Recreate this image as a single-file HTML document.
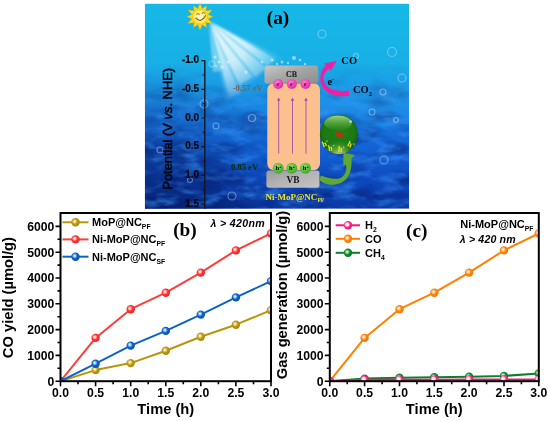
<!DOCTYPE html>
<html><head><meta charset="utf-8"><title>Figure</title>
<style>
html,body{margin:0;padding:0;background:#fff}
svg{display:block}
text{font-family:"Liberation Sans",Arial,sans-serif;font-weight:bold}
.tk{font-size:12.2px}
.al{font-size:14.7px}
.lg{font-size:11px}
.lam{font-size:10.6px;font-style:italic}
.pn{font-family:"Liberation Serif","Times New Roman",serif;font-size:19.3px}
.sf{font-family:"Liberation Serif","Times New Roman",serif}
</style></head><body>
<svg width="550" height="421" viewBox="0 0 550 421">
<defs>
<radialGradient id="gO" cx="0.4" cy="0.4" r="0.62"><stop offset="0.0" stop-color="#fff"/><stop offset="0.25" stop-color="#e6d28c"/><stop offset="0.5" stop-color="#be9a14"/><stop offset="1" stop-color="#a88600"/></radialGradient>
<radialGradient id="gB" cx="0.4" cy="0.4" r="0.62"><stop offset="0.0" stop-color="#fff"/><stop offset="0.25" stop-color="#96c0f0"/><stop offset="0.5" stop-color="#1464c8"/><stop offset="1" stop-color="#0050b4"/></radialGradient>
<radialGradient id="gR" cx="0.4" cy="0.4" r="0.62"><stop offset="0.0" stop-color="#fff"/><stop offset="0.25" stop-color="#ffb4b4"/><stop offset="0.5" stop-color="#ff3434"/><stop offset="1" stop-color="#f52020"/></radialGradient>
<radialGradient id="gOr" cx="0.4" cy="0.4" r="0.62"><stop offset="0.0" stop-color="#fff"/><stop offset="0.25" stop-color="#ffd2a0"/><stop offset="0.5" stop-color="#ff8408"/><stop offset="1" stop-color="#f57800"/></radialGradient>
<radialGradient id="gG" cx="0.4" cy="0.4" r="0.62"><stop offset="0.0" stop-color="#fff"/><stop offset="0.25" stop-color="#96d2a0"/><stop offset="0.5" stop-color="#148c32"/><stop offset="1" stop-color="#007820"/></radialGradient>
<radialGradient id="gP" cx="0.4" cy="0.4" r="0.62"><stop offset="0.08" stop-color="#fff"/><stop offset="0.33" stop-color="#ffc8e0"/><stop offset="0.58" stop-color="#f52888"/><stop offset="1" stop-color="#f0147d"/></radialGradient>
</defs>
<rect width="550" height="421" fill="#fff"/>
<clipPath id="cl60"><rect x="60.5" y="213.0" width="210.5" height="168.2"/></clipPath>
<text x="54.3" y="385.6" text-anchor="end" class="tk">0</text>
<text x="54.3" y="359.8" text-anchor="end" class="tk">1000</text>
<text x="54.3" y="334.0" text-anchor="end" class="tk">2000</text>
<text x="54.3" y="308.2" text-anchor="end" class="tk">3000</text>
<text x="54.3" y="282.4" text-anchor="end" class="tk">4000</text>
<text x="54.3" y="256.6" text-anchor="end" class="tk">5000</text>
<text x="54.3" y="230.8" text-anchor="end" class="tk">6000</text>
<text x="60.5" y="396.9" text-anchor="middle" class="tk">0.0</text>
<text x="95.6" y="396.9" text-anchor="middle" class="tk">0.5</text>
<text x="130.7" y="396.9" text-anchor="middle" class="tk">1.0</text>
<text x="165.8" y="396.9" text-anchor="middle" class="tk">1.5</text>
<text x="200.8" y="396.9" text-anchor="middle" class="tk">2.0</text>
<text x="235.9" y="396.9" text-anchor="middle" class="tk">2.5</text>
<text x="271.0" y="396.9" text-anchor="middle" class="tk">3.0</text>
<path d="M55.5 381.2H60.5 M57.5 368.3H60.5 M55.5 355.4H60.5 M57.5 342.5H60.5 M55.5 329.6H60.5 M57.5 316.7H60.5 M55.5 303.8H60.5 M57.5 290.9H60.5 M55.5 278.0H60.5 M57.5 265.1H60.5 M55.5 252.2H60.5 M57.5 239.3H60.5 M55.5 226.4H60.5 M60.5 381.2V386.2 M78.0 381.2V384.2 M95.6 381.2V386.2 M113.1 381.2V384.2 M130.7 381.2V386.2 M148.2 381.2V384.2 M165.8 381.2V386.2 M183.3 381.2V384.2 M200.8 381.2V386.2 M218.4 381.2V384.2 M235.9 381.2V386.2 M253.5 381.2V384.2 M271.0 381.2V386.2" stroke="#000" stroke-width="1.6" fill="none"/>
<text x="165.8" y="413.7" text-anchor="middle" class="al">Time (h)</text>
<text transform="translate(13.3 297.6) rotate(-90)" text-anchor="middle" class="al">CO yield (µmol/g)</text>
<g clip-path="url(#cl60)">
<path d="M60.5 381.2 L95.6 370.1 L130.7 363.1 L165.8 350.8 L200.8 336.8 L235.9 324.7 L271.0 310.2" stroke="#b8960c" stroke-width="2" fill="none" stroke-linejoin="round"/>
<circle cx="60.5" cy="381.2" r="4.2" fill="url(#gO)"/>
<circle cx="95.6" cy="370.1" r="4.2" fill="url(#gO)"/>
<circle cx="130.7" cy="363.1" r="4.2" fill="url(#gO)"/>
<circle cx="165.8" cy="350.8" r="4.2" fill="url(#gO)"/>
<circle cx="200.8" cy="336.8" r="4.2" fill="url(#gO)"/>
<circle cx="235.9" cy="324.7" r="4.2" fill="url(#gO)"/>
<circle cx="271.0" cy="310.2" r="4.2" fill="url(#gO)"/>
<path d="M60.5 381.2 L95.6 337.9 L130.7 309.2 L165.8 292.7 L200.8 272.6 L235.9 250.4 L271.0 233.4" stroke="#ff3c3c" stroke-width="2" fill="none" stroke-linejoin="round"/>
<circle cx="60.5" cy="381.2" r="4.2" fill="url(#gR)"/>
<circle cx="95.6" cy="337.9" r="4.2" fill="url(#gR)"/>
<circle cx="130.7" cy="309.2" r="4.2" fill="url(#gR)"/>
<circle cx="165.8" cy="292.7" r="4.2" fill="url(#gR)"/>
<circle cx="200.8" cy="272.6" r="4.2" fill="url(#gR)"/>
<circle cx="235.9" cy="250.4" r="4.2" fill="url(#gR)"/>
<circle cx="271.0" cy="233.4" r="4.2" fill="url(#gR)"/>
<path d="M60.5 381.2 L95.6 363.7 L130.7 345.6 L165.8 330.9 L200.8 314.6 L235.9 297.4 L271.0 281.1" stroke="#0a64c8" stroke-width="2" fill="none" stroke-linejoin="round"/>
<circle cx="60.5" cy="381.2" r="4.2" fill="url(#gB)"/>
<circle cx="95.6" cy="363.7" r="4.2" fill="url(#gB)"/>
<circle cx="130.7" cy="345.6" r="4.2" fill="url(#gB)"/>
<circle cx="165.8" cy="330.9" r="4.2" fill="url(#gB)"/>
<circle cx="200.8" cy="314.6" r="4.2" fill="url(#gB)"/>
<circle cx="235.9" cy="297.4" r="4.2" fill="url(#gB)"/>
<circle cx="271.0" cy="281.1" r="4.2" fill="url(#gB)"/>
</g>
<rect x="60.5" y="213.0" width="210.5" height="168.2" fill="none" stroke="#000" stroke-width="2"/>
<path d="M62.5 222.3H88.5" stroke="#b8960c" stroke-width="2"/><circle cx="75.5" cy="222.3" r="4.2" fill="url(#gO)"/>
<text x="92" y="226.3" class="lg">MoP@NC<tspan dy="3" font-size="6.8">PF</tspan></text>
<path d="M62.5 239.4H88.5" stroke="#ff3c3c" stroke-width="2"/><circle cx="75.5" cy="239.4" r="4.2" fill="url(#gR)"/>
<text x="92" y="243.4" class="lg">Ni-MoP@NC<tspan dy="3" font-size="6.8">PF</tspan></text>
<path d="M62.5 256.7H88.5" stroke="#0a64c8" stroke-width="2"/><circle cx="75.5" cy="256.7" r="4.2" fill="url(#gB)"/>
<text x="92" y="260.7" class="lg">Ni-MoP@NC<tspan dy="3" font-size="6.8">SF</tspan></text>
<text x="185" y="236.3" text-anchor="middle" class="pn">(b)</text>
<text x="210.6" y="226.6" class="lam" letter-spacing="0.32">λ &gt; 420nm</text>
<clipPath id="cl329"><rect x="329.8" y="213.0" width="209.0" height="168.2"/></clipPath>
<text x="323.6" y="385.6" text-anchor="end" class="tk">0</text>
<text x="323.6" y="359.8" text-anchor="end" class="tk">1000</text>
<text x="323.6" y="334.0" text-anchor="end" class="tk">2000</text>
<text x="323.6" y="308.2" text-anchor="end" class="tk">3000</text>
<text x="323.6" y="282.4" text-anchor="end" class="tk">4000</text>
<text x="323.6" y="256.6" text-anchor="end" class="tk">5000</text>
<text x="323.6" y="230.8" text-anchor="end" class="tk">6000</text>
<text x="329.8" y="396.9" text-anchor="middle" class="tk">0.0</text>
<text x="364.6" y="396.9" text-anchor="middle" class="tk">0.5</text>
<text x="399.5" y="396.9" text-anchor="middle" class="tk">1.0</text>
<text x="434.3" y="396.9" text-anchor="middle" class="tk">1.5</text>
<text x="469.1" y="396.9" text-anchor="middle" class="tk">2.0</text>
<text x="504.0" y="396.9" text-anchor="middle" class="tk">2.5</text>
<text x="538.8" y="396.9" text-anchor="middle" class="tk">3.0</text>
<path d="M324.8 381.2H329.8 M326.8 368.3H329.8 M324.8 355.4H329.8 M326.8 342.5H329.8 M324.8 329.6H329.8 M326.8 316.7H329.8 M324.8 303.8H329.8 M326.8 290.9H329.8 M324.8 278.0H329.8 M326.8 265.1H329.8 M324.8 252.2H329.8 M326.8 239.3H329.8 M324.8 226.4H329.8 M329.8 381.2V386.2 M347.2 381.2V384.2 M364.6 381.2V386.2 M382.1 381.2V384.2 M399.5 381.2V386.2 M416.9 381.2V384.2 M434.3 381.2V386.2 M451.7 381.2V384.2 M469.1 381.2V386.2 M486.6 381.2V384.2 M504.0 381.2V386.2 M521.4 381.2V384.2 M538.8 381.2V386.2" stroke="#000" stroke-width="1.6" fill="none"/>
<text x="434.3" y="413.7" text-anchor="middle" class="al">Time (h)</text>
<text transform="translate(286.5 295) rotate(-90)" text-anchor="middle" class="al">Gas generation (µmol/g)</text>
<g clip-path="url(#cl329)">
<path d="M329.8 381.2 L364.6 337.9 L399.5 309.2 L434.3 292.7 L469.1 272.6 L504.0 250.4 L538.8 233.4" stroke="#ff8000" stroke-width="2" fill="none" stroke-linejoin="round"/>
<circle cx="329.8" cy="381.2" r="4.2" fill="url(#gOr)"/>
<circle cx="364.6" cy="337.9" r="4.2" fill="url(#gOr)"/>
<circle cx="399.5" cy="309.2" r="4.2" fill="url(#gOr)"/>
<circle cx="434.3" cy="292.7" r="4.2" fill="url(#gOr)"/>
<circle cx="469.1" cy="272.6" r="4.2" fill="url(#gOr)"/>
<circle cx="504.0" cy="250.4" r="4.2" fill="url(#gOr)"/>
<circle cx="538.8" cy="233.4" r="4.2" fill="url(#gOr)"/>
<path d="M329.8 381.2 L364.6 378.6 L399.5 377.8 L434.3 377.3 L469.1 376.7 L504.0 375.9 L538.8 373.5" stroke="#0a8228" stroke-width="2" fill="none" stroke-linejoin="round"/>
<circle cx="329.8" cy="381.2" r="4.2" fill="url(#gG)"/>
<circle cx="364.6" cy="378.6" r="4.2" fill="url(#gG)"/>
<circle cx="399.5" cy="377.8" r="4.2" fill="url(#gG)"/>
<circle cx="434.3" cy="377.3" r="4.2" fill="url(#gG)"/>
<circle cx="469.1" cy="376.7" r="4.2" fill="url(#gG)"/>
<circle cx="504.0" cy="375.9" r="4.2" fill="url(#gG)"/>
<circle cx="538.8" cy="373.5" r="4.2" fill="url(#gG)"/>
<path d="M329.8 381.2 L364.6 379.8 L399.5 379.7 L434.3 379.7 L469.1 379.5 L504.0 379.5 L538.8 379.4" stroke="#f0147d" stroke-width="2" fill="none" stroke-linejoin="round"/>
<circle cx="329.8" cy="381.2" r="4.2" fill="url(#gP)"/>
<circle cx="364.6" cy="379.8" r="4.2" fill="url(#gP)"/>
<circle cx="399.5" cy="379.7" r="4.2" fill="url(#gP)"/>
<circle cx="434.3" cy="379.7" r="4.2" fill="url(#gP)"/>
<circle cx="469.1" cy="379.5" r="4.2" fill="url(#gP)"/>
<circle cx="504.0" cy="379.5" r="4.2" fill="url(#gP)"/>
<circle cx="538.8" cy="379.4" r="4.2" fill="url(#gP)"/>
</g>
<rect x="329.8" y="213.0" width="209.0" height="168.2" fill="none" stroke="#000" stroke-width="2"/>
<path d="M335.7 225.3H360" stroke="#f0147d" stroke-width="2"/><circle cx="348" cy="225.3" r="4.2" fill="url(#gP)"/>
<text x="365" y="229.3" class="lg">H<tspan dy="3" font-size="6.8">2</tspan></text>
<path d="M335.7 238.8H360" stroke="#ff8000" stroke-width="2"/><circle cx="348" cy="238.8" r="4.2" fill="url(#gOr)"/>
<text x="365" y="242.8" class="lg">CO</text>
<path d="M335.7 252.8H360" stroke="#0a8228" stroke-width="2"/><circle cx="348" cy="252.8" r="4.2" fill="url(#gG)"/>
<text x="365" y="256.8" class="lg">CH<tspan dy="3" font-size="6.8">4</tspan></text>
<text x="416.8" y="237.3" text-anchor="middle" class="pn">(c)</text>
<text x="460.3" y="227.6" class="lg">Ni-MoP@NC<tspan dy="3" font-size="6.8">PF</tspan></text>
<text x="459.8" y="243" class="lam" letter-spacing="0.15">λ &gt; 420 nm</text>
<defs>
<linearGradient id="sea" x1="0" y1="0" x2="0" y2="1">
<stop offset="0" stop-color="#16b8e8"/>
<stop offset="0.28" stop-color="#18b0e6"/>
<stop offset="0.42" stop-color="#1a98e4"/>
<stop offset="0.55" stop-color="#187ce0"/>
<stop offset="0.7" stop-color="#1262d4"/>
<stop offset="0.85" stop-color="#0e4cc0"/>
<stop offset="1" stop-color="#0a38a4"/>
</linearGradient>
<linearGradient id="cbg" x1="0" y1="0" x2="1" y2="1">
<stop offset="0" stop-color="#c8c8c8"/><stop offset="0.5" stop-color="#a4a4a4"/><stop offset="1" stop-color="#8c8c8c"/>
</linearGradient>
<linearGradient id="vbg" x1="0" y1="0" x2="1" y2="1">
<stop offset="0" stop-color="#9a9a9a"/><stop offset="0.5" stop-color="#b4b4b4"/><stop offset="1" stop-color="#c4c4c4"/>
</linearGradient>
<radialGradient id="ray" cx="0" cy="0" r="1" gradientUnits="userSpaceOnUse" gradientTransform="translate(203 20) scale(95)">
<stop offset="0" stop-color="#fff" stop-opacity="0.95"/><stop offset="0.55" stop-color="#fff" stop-opacity="0.7"/><stop offset="0.8" stop-color="#fff" stop-opacity="0.3"/><stop offset="1" stop-color="#fff" stop-opacity="0"/>
</radialGradient>
<radialGradient id="el" cx="0.4" cy="0.35" r="0.7"><stop offset="0" stop-color="#ff78d2"/><stop offset="1" stop-color="#e61ea0"/></radialGradient>
<radialGradient id="ho" cx="0.4" cy="0.35" r="0.7"><stop offset="0" stop-color="#8ce05a"/><stop offset="1" stop-color="#3ca028"/></radialGradient>
<radialGradient id="nis" cx="0.5" cy="0.45" r="0.55"><stop offset="0" stop-color="#1e8214"/><stop offset="0.75" stop-color="#1c7814"/><stop offset="1" stop-color="#14580e"/></radialGradient>
<linearGradient id="gls" x1="0" y1="0" x2="0" y2="1"><stop offset="0" stop-color="#c8f0a0" stop-opacity="0.75"/><stop offset="1" stop-color="#78c850" stop-opacity="0.05"/></linearGradient>
<radialGradient id="btm" cx="339.2" cy="157" r="17" gradientUnits="userSpaceOnUse"><stop offset="0" stop-color="#e6f5aa" stop-opacity="0.95"/><stop offset="0.45" stop-color="#a0d264" stop-opacity="0.6"/><stop offset="1" stop-color="#50a032" stop-opacity="0"/></radialGradient>
<clipPath id="csp"><ellipse cx="338.9" cy="134.2" rx="19" ry="19.8"/></clipPath>
<radialGradient id="sun" cx="0.5" cy="0.5" r="0.5"><stop offset="0" stop-color="#fffde0"/><stop offset="0.55" stop-color="#fff08c"/><stop offset="1" stop-color="#ffdc28"/></radialGradient>
<filter id="blr" x="-20%" y="-20%" width="140%" height="140%"><feGaussianBlur stdDeviation="0.9"/></filter>
<radialGradient id="dk" cx="0" cy="0" r="1" gradientUnits="userSpaceOnUse" gradientTransform="translate(146 216) scale(150 85)"><stop offset="0" stop-color="#04145a" stop-opacity="0.75"/><stop offset="0.5" stop-color="#04145a" stop-opacity="0.4"/><stop offset="1" stop-color="#04145a" stop-opacity="0"/></radialGradient>
<filter id="tex" x="0" y="0" width="100%" height="100%" color-interpolation-filters="sRGB"><feTurbulence type="fractalNoise" baseFrequency="0.045 0.11" numOctaves="3" seed="7" result="n"/><feColorMatrix in="n" type="matrix" values="0 0 0 0 0.25  0 0 0 0 0.62  0 0 0 0 1  2.6 0 0 0 -1.2"/></filter>
<filter id="tex2" x="0" y="0" width="100%" height="100%" color-interpolation-filters="sRGB"><feTurbulence type="fractalNoise" baseFrequency="0.03 0.07" numOctaves="2" seed="23" result="n"/><feColorMatrix in="n" type="matrix" values="0 0 0 0 0.02  0 0 0 0 0.08  0 0 0 0 0.38  2.4 0 0 0 -1.05"/></filter>
<linearGradient id="tm" x1="0" y1="0" x2="0" y2="1"><stop offset="0.3" stop-color="#fff" stop-opacity="0"/><stop offset="0.55" stop-color="#fff" stop-opacity="1"/><stop offset="1" stop-color="#fff" stop-opacity="1"/></linearGradient>
<mask id="tmk"><rect x="144.8" y="3.6" width="264.4" height="205.2" fill="url(#tm)"/></mask>
<filter id="blr2" x="-5%" y="-5%" width="110%" height="110%"><feGaussianBlur stdDeviation="0.45"/></filter>
<radialGradient id="dk2" cx="0" cy="0" r="1" gradientUnits="userSpaceOnUse" gradientTransform="translate(140 150) scale(120 80)"><stop offset="0" stop-color="#082878" stop-opacity="0.45"/><stop offset="1" stop-color="#082878" stop-opacity="0"/></radialGradient>
<clipPath id="ca"><rect x="144.8" y="3.6" width="264.4" height="205.2"/></clipPath>
</defs>
<g clip-path="url(#ca)">
<rect x="144.8" y="3.6" width="264.4" height="205.2" fill="url(#sea)"/>
<!-- dark patches -->
<rect x="144.8" y="90" width="264.4" height="119" fill="url(#dk)"/><rect x="144.8" y="60" width="264.4" height="149" fill="url(#dk2)"/>
<ellipse cx="370" cy="105" rx="70" ry="22" fill="#28a0f0" opacity="0.3"/>
<g mask="url(#tmk)"><rect x="144.8" y="3.6" width="264.4" height="205.2" filter="url(#tex2)" opacity="0.5"/><rect x="144.8" y="3.6" width="264.4" height="205.2" filter="url(#tex)" opacity="0.55"/></g>
<!-- rays -->
<g filter="url(#blr)">
<path d="M210 22 L226 102 L284 58 Z" fill="url(#ray)" opacity="0.35"/>
<g fill="url(#ray)">
<path d="M211 22 L267 66 L276 59 Z"/>
<path d="M211 23 L255 77 L267 68 Z"/>
<path d="M210 23 L239 85 L253 77 Z"/>
<path d="M210 24 L229 97 L241 94 Z" opacity="0.8"/>
<path d="M209 24 L213 72 L221 71 Z" opacity="0.5"/>
</g></g>
<!-- bubbles -->
<g fill="none" stroke="#dff4ff" stroke-opacity="0.4" stroke-width="1.1" filter="url(#blr2)">
<circle cx="322" cy="34" r="4"/><circle cx="392" cy="52" r="4.5"/><circle cx="402" cy="78" r="4"/><circle cx="383" cy="92" r="3"/>
<circle cx="212" cy="64" r="3"/><circle cx="204" cy="104" r="4"/><circle cx="216" cy="126" r="3"/><circle cx="252" cy="118" r="3.5"/>
<circle cx="372" cy="112" r="3"/><circle cx="384" cy="160" r="4"/><circle cx="356" cy="56" r="2.5"/><circle cx="396" cy="120" r="2.5"/>
<circle cx="160" cy="150" r="3"/><circle cx="232" cy="196" r="4"/><circle cx="190" cy="180" r="2.5"/>
</g>
<g fill="#fff" opacity="0.5">
<circle cx="294" cy="58" r="2"/><circle cx="282" cy="62" r="1.5"/><circle cx="272" cy="60" r="1.5"/><circle cx="262" cy="62" r="1.3"/><circle cx="305" cy="64" r="1.2"/>
<circle cx="246" cy="72" r="1.5"/><circle cx="228" cy="62" r="1.5"/><circle cx="215" cy="57" r="1.6"/><circle cx="219" cy="62" r="1.3"/><circle cx="222" cy="67" r="1.5"/><circle cx="216" cy="66" r="1"/><circle cx="300" cy="60" r="1.3"/><circle cx="288" cy="63" r="1.2"/><circle cx="277" cy="64" r="1.2"/>
</g>
</g>
<!-- sun -->
<g transform="translate(200 16.7)">
<path d="M0.0 -13.2 L2.1 -7.9 L6.4 -10.6 L5.8 -5.8 L12.0 -6.6 L7.9 -2.1 L12.8 0.0 L7.9 2.1 L12.0 6.6 L5.8 5.8 L6.4 10.6 L2.1 7.9 L0.0 13.2 L-2.1 7.9 L-6.4 10.6 L-5.8 5.8 L-12.0 6.6 L-7.9 2.1 L-12.8 0.0 L-7.9 -2.1 L-12.0 -6.6 L-5.8 -5.8 L-6.4 -10.6 L-2.1 -7.9 Z" fill="#ffdc1e" stroke="#f0b400" stroke-width="0.5" stroke-linejoin="round"/>
<circle r="7.6" fill="url(#sun)" stroke="#e6b000" stroke-width="0.5"/>
<path d="M-4 1.5 Q1 7 5.5 -1" fill="none" stroke="#7a5a10" stroke-width="1.1" stroke-linecap="round"/>
<path d="M-3.5 -2.5 Q-2 -4 -0.5 -2.5 M2 -3.5 Q3.5 -5 5 -3.5" fill="none" stroke="#7a5a10" stroke-width="0.9" stroke-linecap="round"/>
</g>
<!-- axis -->
<path d="M204.8 60.1V208.8" stroke="#14141e" stroke-width="1.4" fill="none"/>
<path d="M201.2 60.7H204.8 M201.2 89.4H204.8 M201.2 118.0H204.8 M201.2 146.7H204.8 M201.2 175.4H204.8 M201.2 204.1H204.8 M202.6 75.0H204.8 M202.6 103.7H204.8 M202.6 132.4H204.8 M202.6 161.0H204.8 M202.6 189.7H204.8" stroke="#14141e" stroke-width="1.2" fill="none"/>
<g font-size="10.9" text-anchor="end" fill="#05050f" stroke="#05050f" stroke-width="0.2">
<text x="199" y="63.4" textLength="17.1" lengthAdjust="spacingAndGlyphs">-1.0</text><text x="199" y="92.1" textLength="17.1" lengthAdjust="spacingAndGlyphs">-0.5</text><text x="199" y="120.7" textLength="13.8" lengthAdjust="spacingAndGlyphs">0.0</text><text x="199" y="149.4" textLength="13.8" lengthAdjust="spacingAndGlyphs">0.5</text><text x="199" y="178.1" textLength="13.8" lengthAdjust="spacingAndGlyphs">1.0</text><text x="199" y="206.8" textLength="13.8" lengthAdjust="spacingAndGlyphs">1.5</text>
</g>
<text transform="translate(172.2 128.8) rotate(-90)" text-anchor="middle" font-size="12.9" style="font-weight:normal" stroke="#05050f" stroke-width="0.55" fill="#05050f">Potential (V <tspan font-style="italic">vs</tspan>. NHE)</text>
<!-- band structure -->
<rect x="267.3" y="83.2" width="52.7" height="87" rx="6.5" ry="6.5" fill="#fcc08e"/>
<rect x="264.5" y="65.5" width="53.7" height="18.2" rx="2.5" fill="url(#cbg)"/>
<rect x="266.4" y="170.5" width="53.1" height="17.2" rx="2.5" fill="url(#vbg)"/>
<g stroke="#a050a8" stroke-width="0.9" fill="#a050a8">
<path d="M278.7 153.6V100"/><path d="M292.5 153.6V100"/><path d="M306 153.6V100"/>
<path d="M278.7 97.4l-1.8 3.4h3.6z M292.5 97.4l-1.8 3.4h3.6z M306 97.4l-1.8 3.4h3.6z" stroke="none"/>
</g>
<circle cx="278.2" cy="84" r="5" fill="url(#el)"/><circle cx="291.8" cy="84" r="5" fill="url(#el)"/><circle cx="305.5" cy="84" r="5" fill="url(#el)"/>
<circle cx="278.2" cy="168.2" r="5.5" fill="url(#ho)"/><circle cx="291.8" cy="168.2" r="5.5" fill="url(#ho)"/><circle cx="305.5" cy="168.2" r="5.5" fill="url(#ho)"/>
<g class="sf" font-size="5.5" text-anchor="middle">
<text class="sf" x="278.2" y="86" fill="#501040">e<tspan dy="-2" font-size="3.5">-</tspan></text><text class="sf" x="291.8" y="86" fill="#501040">e<tspan dy="-2" font-size="3.5">-</tspan></text><text class="sf" x="305.5" y="86" fill="#501040">e<tspan dy="-2" font-size="3.5">-</tspan></text>
</g>
<g font-size="6.5" text-anchor="middle">
<text class="sf" x="278.4" y="170.4">h<tspan dy="-2.2" font-size="3.8">+</tspan></text><text class="sf" x="292" y="170.4">h<tspan dy="-2.2" font-size="3.8">+</tspan></text><text class="sf" x="305.7" y="170.4">h<tspan dy="-2.2" font-size="3.8">+</tspan></text>
</g>
<text class="sf" x="291.5" y="77.3" font-size="7.8" text-anchor="middle" fill="#2a2a2a" stroke="#2a2a2a" stroke-width="0.2">CB</text>
<text class="sf" x="293" y="183.2" font-size="9.4" text-anchor="middle" fill="#141414">VB</text>
<text class="sf" x="247.7" y="90.5" font-size="8.6" text-anchor="middle" fill="#6e6458">-0.57 eV</text>
<text class="sf" x="244.5" y="170.2" font-size="8.6" text-anchor="middle" fill="#0a280a">0.85 eV</text>
<text class="sf" x="265.5" y="200.2" font-size="9" fill="#f0e61e">Ni-MoP@NC<tspan dy="1.5" font-size="5.5">PF</tspan></text>
<text class="pn" x="278" y="24" text-anchor="middle">(a)</text>
<!-- magenta arrow -->
<path d="M349 95.7 C338 98 322 94 320.3 80 C320 73 322.5 68 326 65.5 L323.9 63.7 L337 60.7 L330.4 70.8 L328.8 68.6 C325.5 71.5 323 76 323.5 80 C325 89 337 92.5 349 90.4 Z" fill="#f01ea0"/>
<text class="sf" x="341.3" y="64.3" font-size="10.5" fill="#05050a">CO</text>
<text class="sf" x="352.9" y="93.2" font-size="10.5" fill="#05050a">CO<tspan dy="2.4" font-size="6.5">2</tspan></text>
<text class="sf" x="327.4" y="84.6" font-size="10.5" fill="#05050a">e<tspan dy="-4" font-size="5.5">-</tspan></text>
<!-- Ni sphere -->
<ellipse cx="338.9" cy="134.2" rx="19" ry="19.8" fill="url(#nis)"/>
<g clip-path="url(#csp)">
<ellipse cx="338" cy="123" rx="14" ry="7.5" fill="url(#gls)"/>
<rect x="319" y="138" width="41" height="17" fill="url(#btm)"/>
</g>
<circle cx="350.6" cy="121.5" r="1.3" fill="#aee6ff" opacity="0.9"/>
<text class="sf" x="339.7" y="137.6" font-size="9.4" text-anchor="middle" fill="#f51414">Ni</text>
<g font-size="8" fill="#f5e61e" text-anchor="middle">
<text class="sf" transform="translate(326.4 146) rotate(-22)">h<tspan dy="-2.8" font-size="4.6">+</tspan></text><text class="sf" transform="translate(332 150.3) rotate(-10)">h<tspan dy="-2.8" font-size="4.6">+</tspan></text><text class="sf" transform="translate(341.2 151.8) rotate(4)">h<tspan dy="-2.8" font-size="4.6">+</tspan></text><text class="sf" transform="translate(350 147.2) rotate(24)">h<tspan dy="-2.8" font-size="4.6">+</tspan></text>
</g>
<!-- green arrow -->
<path d="M318.7 179 L321.3 175.4 C326 177.5 333 179.3 339 178.4 C343.5 177.5 346.3 172.5 346.4 167.5 L345.8 164.2 L343.3 166.8 L343.5 152.8 L354.6 155.1 L351.5 158.6 C351.9 166 351 173 347 178.2 C342.5 183.5 335 185.5 329 184.4 C325 183.7 321.5 182.3 318.7 179 Z" fill="#5fa832"/>

</svg>
</body></html>
